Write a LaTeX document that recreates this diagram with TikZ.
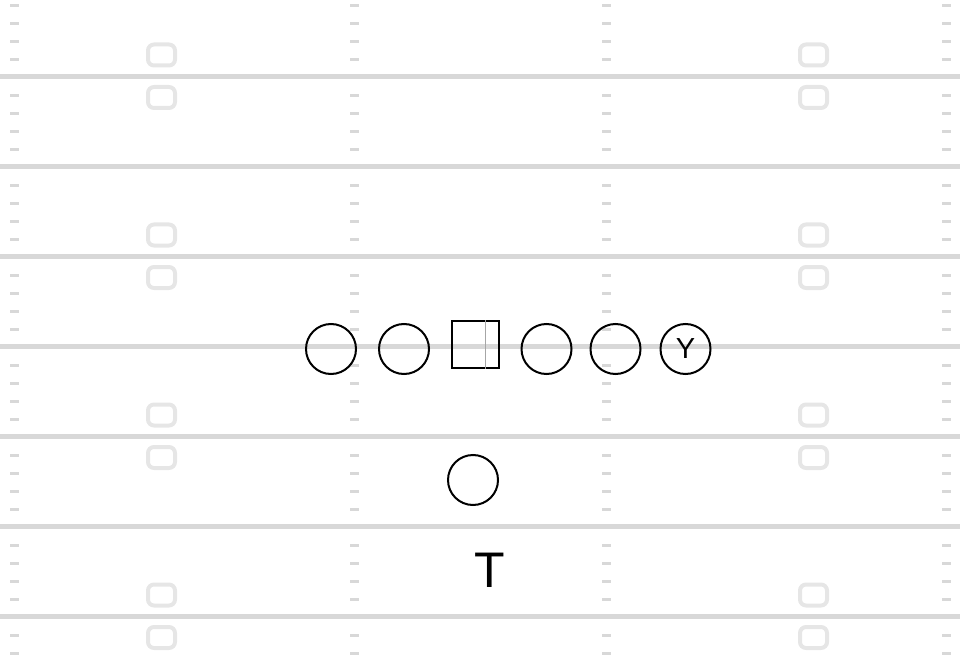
\documentclass[tikz,border=0pt]{standalone}
\usepackage{fontspec}
\setmainfont{Liberation Sans}
\usetikzlibrary{positioning}
\definecolor{linegray}{HTML}{D8D8D8}
\definecolor{numgray}{HTML}{E6E6E6}

\begin{document}
\begin{tikzpicture}[x=1pt, y=-1pt, on grid,
	player/.style={draw, circle, line width=2pt, minimum size=50pt, inner sep=0pt,
		font=\fontsize{29}{29}\selectfont},
	snapbox/.style={draw, rectangle, line width=2pt, minimum size=47pt, inner sep=0pt}]

	\useasboundingbox (0,0) rectangle (960,660);

	% yard lines
	\foreach \y in {76.5,166.5,...,616.5}
		\draw[linegray, line width=5pt] (0,\y) -- (960,\y);

	% hash marks
	\foreach \j in {1,...,37} {
		\pgfmathtruncatemacro\r{mod(\j,5)}
		\ifnum\r>0
			\foreach \x in {14.5,354.5,606.5,946.5}
				\fill[linegray] (\x-4.5,18*\j-14.4) rectangle (\x+4.5,18*\j-11.1);
		\fi
	}

	% numbers
	\foreach \y in {76.5,256.5,436.5,616.5}
		\foreach \x in {161.5,813.5} {
			\draw[numgray, line width=4pt, rounded corners=6pt]
				(\x-13.5,\y-32) rectangle (\x+13.5,\y-11);
			\draw[numgray, line width=4pt, rounded corners=6pt]
				(\x-13.5,\y+10.5) rectangle (\x+13.5,\y+31.5);
		}

	% line
	\node[snapbox] (c) at (475.5,344.5) {};
	\draw[gray!70, line width=1pt] ([xshift=10pt]c.north) -- ([xshift=10pt]c.south);
	\node[player] (lg) at (404,349) {};
	\node[player, left=73pt of lg] (lt) {};
	\node[player] (rg) at (546.5,349) {};
	\node[player, right=69pt of rg] (rt) {};
	\node[player, right=70pt of rt] (y) {Y};

	% backs
	\node[player] (qb) at (473,480) {};
	\node[font=\fontsize{50}{50}\selectfont] (t) at (490,570) {T};

\end{tikzpicture}
\end{document}
